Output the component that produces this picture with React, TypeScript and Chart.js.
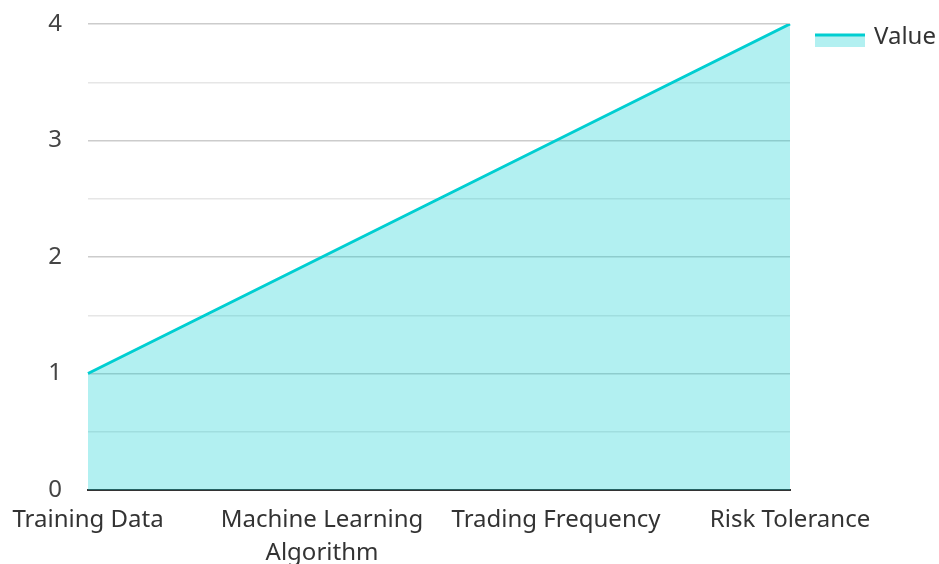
import React, { useEffect, useRef } from "react";
import { Chart, registerables } from "chart.js";

Chart.register(...registerables);

const categories: (string | string[])[] = ["Training Data", ["Machine Learning", "Algorithm"], "Trading Frequency", "Risk Tolerance"];
const values: number[] = [1, 2, 3, 4];
const seriesName = "Value";
const lineColor = "#00CED1";
const fillColor = "rgba(0, 206, 209, 0.3)";
const FONT = "'Noto Sans', sans-serif";

const legendPlugin = {
  id: "customLegend",
  afterDraw(chart: any) {
    const ctx = chart.ctx;
    const x = 815;
    const y = 35;
    ctx.save();
    ctx.fillStyle = fillColor;
    ctx.fillRect(x, y, 50, 12);
    ctx.strokeStyle = lineColor;
    ctx.lineWidth = 3;
    ctx.beginPath();
    ctx.moveTo(x, y);
    ctx.lineTo(x + 50, y);
    ctx.stroke();
    ctx.fillStyle = "#333";
    ctx.font = `24px ${FONT}`;
    ctx.textBaseline = "middle";
    ctx.textAlign = "left";
    ctx.fillText(seriesName, 874, y + 2);
    ctx.restore();
  },
};

export default function App() {
  const ref = useRef<HTMLCanvasElement>(null);
  useEffect(() => {
    document.body.style.margin = "0";
    const chart = new Chart(ref.current!, {
      type: "line",
      data: {
        labels: categories,
        datasets: [
          {
            label: seriesName,
            data: values,
            borderColor: lineColor,
            backgroundColor: fillColor,
            borderWidth: 3,
            fill: "origin",
            pointRadius: 0,
            tension: 0,
          },
        ],
      },
      options: {
        animation: false,
        responsive: false,
        layout: { padding: { top: 24, right: 149, left: 0, bottom: 0 } },
        plugins: { legend: { display: false }, tooltip: { enabled: false } },
        scales: {
          x: {
            offset: false,
            grid: { display: false, drawTicks: false },
            border: { display: true, color: "#333", width: 2 },
            ticks: {
              color: "#333",
              font: { family: FONT, size: 24, lineHeight: 1.36 },
              padding: 14,
              maxRotation: 0,
              autoSkip: false,
            },
            afterFit: (s: any) => {
              s.height = 74;
              s.paddingTop = 0;
              s.paddingLeft = 0;
              s.paddingRight = 0;
            },
          },
          y: {
            min: 0,
            max: 4,
            grid: {
              drawTicks: false,
              color: (c: any) => (Number.isInteger(c.tick.value) ? "#cccccc" : "#e6e6e6"),
              lineWidth: 1.5,
            },
            border: { display: false },
            ticks: {
              stepSize: 0.5,
              color: "#444",
              font: { family: FONT, size: 24 },
              padding: 26,
              callback: (v: any) => (Number.isInteger(v) ? String(v) : ""),
            },
            afterFit: (s: any) => {
              s.width = 88;
              s.paddingTop = 0;
              s.paddingBottom = 0;
            },
          },
        },
      },
      plugins: [legendPlugin],
    });
    return () => chart.destroy();
  }, []);
  return (
    <div style={{ position: "fixed", left: 0, top: 0, width: 939, height: 564 }}>
      <canvas ref={ref} width={939} height={564} style={{ width: 939, height: 564 }} />
    </div>
  );
}
